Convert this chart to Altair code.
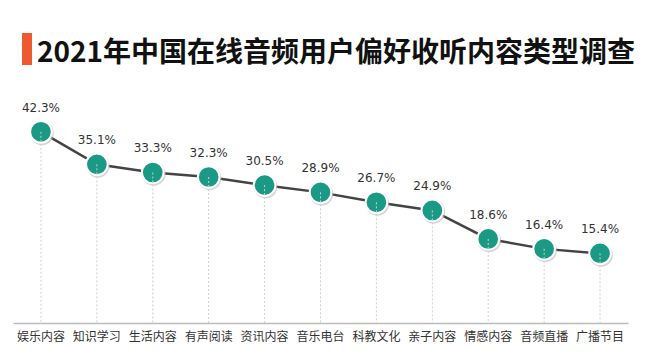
import altair as alt
import pandas as pd

categories = ["娱乐内容", "知识学习", "生活内容", "有声阅读", "资讯内容", "音乐电台",
              "科教文化", "亲子内容", "情感内容", "音频直播", "广播节目"]
values = [42.3, 35.1, 33.3, 32.3, 30.5, 28.9, 26.7, 24.9, 18.6, 16.4, 15.4]
labels = ["42.3%", "35.1%", "33.3%", "32.3%", "30.5%", "28.9%", "26.7%", "24.9%", "18.6%", "16.4%", "15.4%"]
title_text = "2021年中国在线音频用户偏好收听内容类型调查"

df = pd.DataFrame({"cat": categories, "val": values, "label": labels, "zero": [0] * len(values)})
tdf = pd.DataFrame({"t": [title_text]})

x = alt.X("cat:N", sort=categories, title=None,
          scale=alt.Scale(paddingInner=0, paddingOuter=0, align=0.5),
          axis=alt.Axis(labelAngle=0, ticks=False, grid=False, domainColor="#bbbbbb",
                        domainWidth=1.5, labelColor="#333333", labelFontSize=12,
                        labelFont="Noto Sans CJK SC", labelPadding=8))
y = alt.Y("val:Q", scale=alt.Scale(domain=[0, 50], nice=False), axis=None)

base = alt.Chart(df)

line = base.mark_line(color="#444444", strokeWidth=2.5).encode(x=x, y=y)
shadow = base.mark_circle(size=560, color="#bbbbbb", opacity=0.6, xOffset=1, yOffset=1.5).encode(x=x, y=y)
points = base.mark_circle(size=470, color="#1a9a85", opacity=1, stroke="white", strokeWidth=2).encode(x=x, y=y)
rules = base.mark_rule(color="#cfcfcf", strokeWidth=1, strokeDash=[2, 2]).encode(x=x, y=y, y2="zero:Q")
text = base.mark_text(dy=-24, fontSize=12, font="DejaVu Sans", color="#333333").encode(x=x, y=y, text="label:N")

tchart = alt.Chart(tdf)
bar = tchart.mark_rect(color="#ee5a2f").encode(
    x=alt.value(9), x2=alt.value(19), y=alt.value(-64), y2=alt.value(-32))
title = tchart.mark_text(align="left", baseline="alphabetic", fontSize=28, font="Noto Sans CJK SC",
                         fontWeight="bold", color="#111111").encode(
    x=alt.value(24), y=alt.value(-35), text="t:N")

chart = alt.layer(bar, title, line, shadow, points, rules, text).properties(
    width=615, height=226,
    autosize=alt.AutoSizeParams(type="none"),
    padding={"left": 5, "top": 89, "right": 24, "bottom": 20},
).configure_view(stroke=None)

chart.save("out.html", embed_options={"renderer": "svg", "actions": False})
